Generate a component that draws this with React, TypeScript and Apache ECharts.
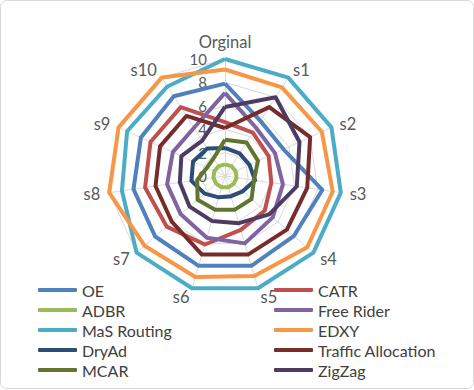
import React, { useEffect, useRef } from 'react';
import * as echarts from 'echarts';

const indicators = ['Orginal', 's1', 's2', 's3', 's4', 's5', 's6', 's7', 's8', 's9', 's10'];
const ticks = [0, 2, 4, 6, 8, 10];

const oe = [7.9, 5.6, 5.5, 8.4, 7.8, 8.0, 8.0, 7.9, 7.9, 7.9, 8.1];
const catr = [4.6, 4.4, 4.1, 4.0, 4.5, 4.8, 6.1, 6.6, 6.9, 7.0, 7.0];
const adbr = [1, 1, 1, 1, 1, 1, 1, 1, 1, 1, 1];
const freeRider = [7.1, 4.9, 4.7, 5.0, 5.4, 6.0, 5.5, 5.0, 5.0, 4.9, 4.9];
const masRouting = [10, 10, 10, 10, 10, 10, 10, 10, 8.9, 9.2, 9.1];
const edxy = [9.1, 9.0, 9.1, 9.3, 9.3, 8.9, 9.0, 9.1, 10, 10, 10];
const dryAd = [2.4, 2.3, 2.3, 2.6, 2.0, 1.8, 1.9, 2.3, 2.9, 3.0, 2.8];
const trafficAllocation = [4.1, 7.0, 8.0, 7.1, 7.0, 7.0, 7.0, 6.0, 6.0, 6.1, 6.1];
const mcar = [3.1, 3.4, 3.1, 2.5, 3.0, 3.0, 3.0, 3.1, 2.4, 1.7, 1.8];
const zigZag = [5.9, 8.0, 7.0, 6.2, 5.0, 4.2, 4.0, 4.0, 3.9, 4.1, 3.6];

const seriesNames = ['OE', 'CATR', 'ADBR', 'Free Rider', 'MaS Routing', 'EDXY', 'DryAd', 'Traffic Allocation', 'MCAR', 'ZigZag'];
const seriesValues = [oe, catr, adbr, freeRider, masRouting, edxy, dryAd, trafficAllocation, mcar, zigZag];
const seriesColors = ['#4F81BD', '#C0504D', '#9BBB59', '#8064A2', '#4BACC6', '#F79646', '#2C4D75', '#772C2A', '#5F7530', '#4D3B62'];

const legendLeft = ['OE', 'ADBR', 'MaS Routing', 'DryAd', 'MCAR'];
const legendRight = ['CATR', 'Free Rider', 'EDXY', 'Traffic Allocation', 'ZigZag'];

// ECharts places indicators counter-clockwise; reorder to get clockwise layout
const order = [0, 10, 9, 8, 7, 6, 5, 4, 3, 2, 1];

const FONT = 'Lato';

export default function App() {
  const ref = useRef<HTMLDivElement>(null);
  useEffect(() => {
    document.body.style.margin = '0';
    const chart = echarts.init(ref.current!, null, { renderer: 'svg' });
    const tMax = ticks[ticks.length - 1];
    const legendCommon = {
      orient: 'vertical' as const,
      top: 282,
      padding: 0,
      itemWidth: 39,
      itemHeight: 4,
      itemGap: 4,
      icon: 'roundRect',
      textStyle: { color: '#404040', fontSize: 16, fontFamily: FONT, lineHeight: 16 },
    };
    chart.setOption({
      animation: false,
      backgroundColor: '#ffffff',
      graphic: [
        {
          type: 'rect',
          shape: { x: 0.5, y: 0.5, width: 473, height: 388, r: 6 },
          style: { fill: 'none', stroke: '#d9d9d9', lineWidth: 1 },
          silent: true,
        },
      ],
      legend: [
        { ...legendCommon, left: 38, data: legendLeft },
        { ...legendCommon, left: 274, data: legendRight },
      ],
      radar: {
        center: [225, 176],
        radius: 117,
        startAngle: 90,
        splitNumber: ticks.length - 1,
        shape: 'polygon',
        indicator: order.map((i) =>
          i === 0
            ? { name: indicators[i], min: ticks[0], max: tMax, axisLabel: { show: true } }
            : { name: indicators[i], min: ticks[0], max: tMax }
        ),
        axisName: { color: '#595959', fontSize: 16.5, fontFamily: FONT },
        nameGap: 9,
        axisLine: { lineStyle: { color: '#d9d9d9', width: 1 } },
        splitLine: { lineStyle: { color: '#d9d9d9', width: 1 } },
        splitArea: { show: false },
        axisTick: { show: false },
        axisLabel: { show: false, color: '#595959', fontSize: 15, fontFamily: FONT, margin: 18, align: 'right' },
      },
      series: seriesNames.map((name, si) => ({
        type: 'radar',
        name,
        symbol: 'none',
        itemStyle: { color: seriesColors[si] },
        lineStyle: { color: seriesColors[si], width: 4, join: 'round' },
        data: [{ name, value: order.map((i) => seriesValues[si][i]) }],
      })),
    });
    return () => chart.dispose();
  }, []);
  return <div ref={ref} style={{ width: 474, height: 390 }} />;
}
